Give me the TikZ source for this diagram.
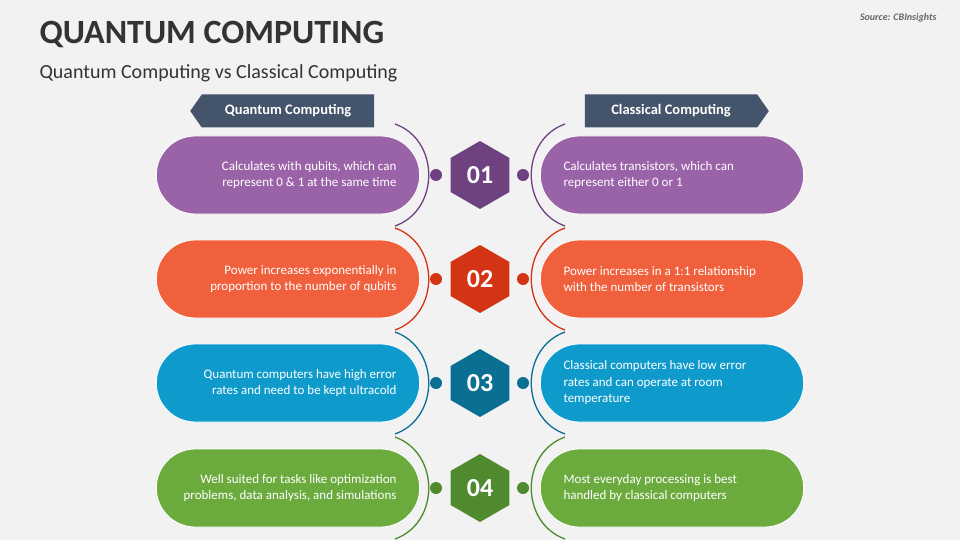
\documentclass[tikz,border=0pt]{standalone}
\usepackage{fontspec}
\setmainfont{Carlito}
\usetikzlibrary{shapes.geometric,shapes.symbols,shapes.misc}
\definecolor{bg}{HTML}{F2F2F2}
\definecolor{banner}{HTML}{44546A}
\definecolor{pA}{HTML}{9A63A8}\definecolor{hA}{HTML}{6E4180}
\definecolor{pB}{HTML}{F0603C}\definecolor{hB}{HTML}{D33414}
\definecolor{pC}{HTML}{0E9BCB}\definecolor{hC}{HTML}{0B6F93}
\definecolor{pD}{HTML}{6BAA3D}\definecolor{hD}{HTML}{4F8A2E}
\tikzset{
 pill/.style={rounded rectangle,minimum width=270pt,minimum height=78pt,draw=white,line width=0.8pt,text=white,font=\fontsize{13}{16.5}\selectfont},
 hexa/.style={regular polygon,regular polygon sides=6,shape border rotate=90,minimum size=68pt,inner sep=0,text=white,font=\bfseries\fontsize{26}{28}\selectfont},
 dotn/.style={circle,minimum size=12pt,inner sep=0},
 arcl/.style={line width=1.3pt},
 bannerL/.style={signal,signal to=west,signal pointer angle=110,fill=banner,text=white,minimum width=184pt,minimum height=33pt,inner sep=0,font=\bfseries\fontsize{14.5}{16}\selectfont},
 bannerR/.style={bannerL,signal to=east}
}
\begin{document}
\begin{tikzpicture}[x=1pt,y=-1pt]
\fill[bg] (0,0) rectangle (960,540);
\useasboundingbox (0,0) rectangle (960,540);
\node[anchor=west,font=\bfseries\fontsize{34}{36}\selectfont,text=black!80] (title) at (36,34) {QUANTUM COMPUTING};
\node[anchor=west,font=\fontsize{20}{22}\selectfont,text=black!80] (sub) at (36,73) {Quantum Computing vs Classical Computing};
\node[anchor=east,font=\bfseries\itshape\fontsize{10}{12}\selectfont,text=black!60] (src) at (940,18) {Source: CBInsights};
\node[bannerL] (bl) at (288,111) {Quantum Computing};
\node[bannerR] (br) at (671,111) {Classical Computing};
\foreach \i/\y/\p/\h/\n/\lt/\rt in {
 1/175/pA/hA/01/{Calculates with qubits, which can\\represent 0 \& 1 at the same time}/{Calculates transistors, which can\\represent either 0 or 1},
 2/279/pB/hB/02/{Power increases exponentially in\\proportion to the number of qubits}/{Power increases in a 1:1 relationship\\with the number of transistors},
 3/383/pC/hC/03/{Quantum computers have high error\\rates and need to be kept ultracold}/{Classical computers have low error\\rates and can operate at room\\temperature},
 4/488/pD/hD/04/{Well suited for tasks like optimization\\problems, data analysis, and simulations}/{Most everyday processing is best\\handled by classical computers}}{
 \draw[arcl,draw=\h] (395,\y-51) .. controls (440,\y-35) and (440,\y+35) .. (395,\y+51);
 \draw[arcl,draw=\h] (565,\y-51) .. controls (520,\y-35) and (520,\y+35) .. (565,\y+51);
 \node[pill,fill=\p] (l\i) at (288,\y) {};
 \node[anchor=east,align=right,text=white,font=\fontsize{13}{16.5}\selectfont] (lt\i) at (400,\y) {\lt};
 \node[pill,fill=\p] (r\i) at (672,\y) {};
 \node[anchor=west,align=left,text=white,font=\fontsize{13}{16.5}\selectfont] (rt\i) at (560,\y) {\rt};
 \node[hexa,fill=\h] (h\i) at (480,\y) {\n};
 \node[dotn,fill=\h] (dl\i) at (436,\y) {};
 \node[dotn,fill=\h] (dr\i) at (523,\y) {};
}
\end{tikzpicture}
\end{document}
